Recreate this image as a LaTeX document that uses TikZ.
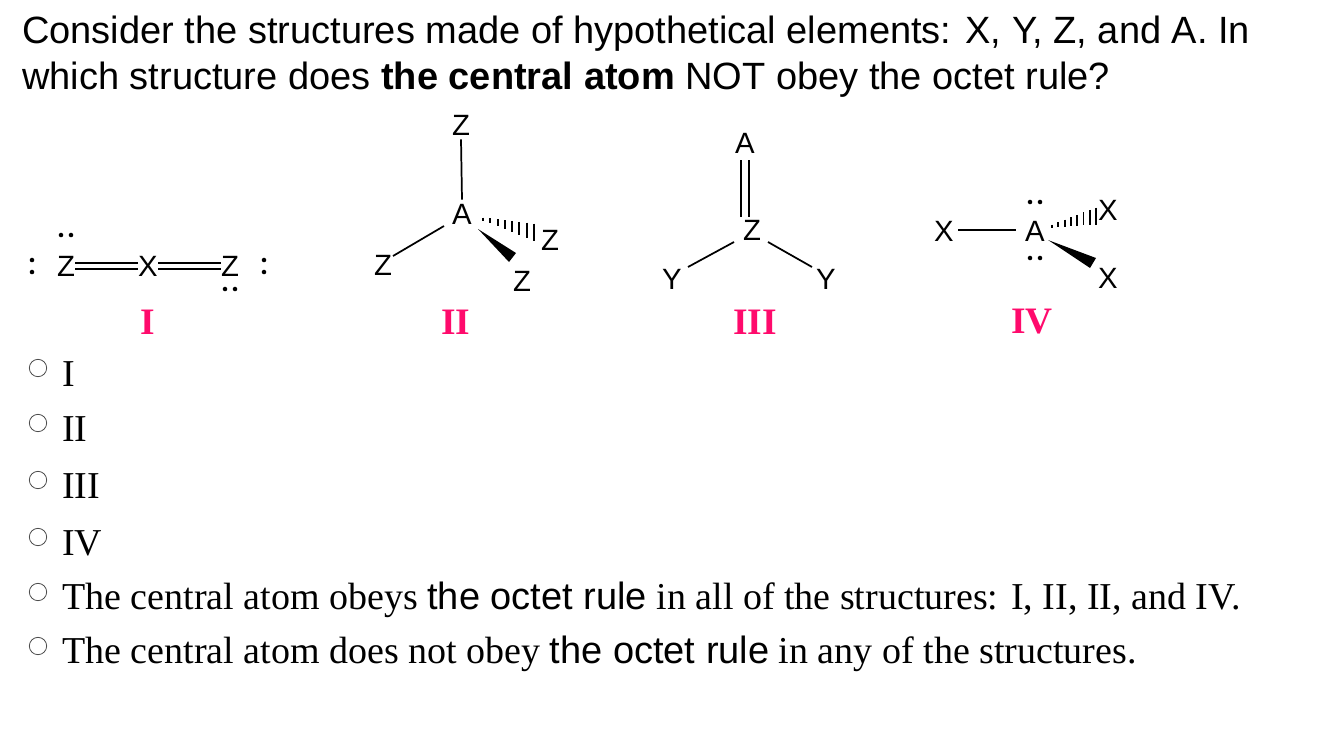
\documentclass[tikz,border=0pt]{standalone}
\usepackage{fontspec}
\setmainfont{Liberation Serif}
\setsansfont{Liberation Sans}
\usetikzlibrary{calc}
\definecolor{rn}{HTML}{FF0A6C}
\begin{document}
\begin{tikzpicture}[x=0.75pt,y=-0.75pt,
  atom/.style={font=\sffamily\fontsize{22}{22}\selectfont,inner sep=0pt},
  roman/.style={font=\bfseries\fontsize{28}{28}\selectfont,text=rn},
  bond/.style={line width=1.3pt},
  hashb/.style={line width=1.4pt},
  dot/.style={circle,fill,inner sep=0pt,minimum size=3.4pt},
  opt/.style={circle,draw=black!70,line width=0.6pt,minimum size=13pt,inner sep=0pt},
  otext/.style={anchor=west,font=\fontsize{28.5}{28.5}\selectfont,inner sep=0pt},
  title/.style={anchor=north west,font=\sffamily\fontsize{28.5}{34}\selectfont,align=left,inner sep=0pt}]
\useasboundingbox (0,0) rectangle (1322,732);
\node[title] (t) at (22,16) {Consider the structures made of hypothetical elements: X, Y, Z, and A. In\\which structure does \textbf{the central atom} NOT obey the octet rule?};
% I
\node[atom] (z1) at (66,266) {Z};
\node[atom] (x1) at (148,266) {X};
\node[atom] (z2) at (230,266) {Z};
\node[dot] at (32,260) {}; \node[dot] at (32,272) {};
\node[dot] at (264,260) {}; \node[dot] at (264,272) {};
\node[dot] at (61,235) {}; \node[dot] at (71,235) {};
\node[dot] at (225,289) {}; \node[dot] at (235,289) {};
\draw[bond] ([yshift=-2.4pt]z1.east) -- ([yshift=-2.4pt]x1.west);
\draw[bond] ([yshift=2.4pt]z1.east) -- ([yshift=2.4pt]x1.west);
\draw[bond] ([yshift=-2.4pt]x1.east) -- ([yshift=-2.4pt]z2.west);
\draw[bond] ([yshift=2.4pt]x1.east) -- ([yshift=2.4pt]z2.west);
\node[roman] (r1) at (148,322) {I};
% II
\node[atom] (a2) at (462,214) {A};
\node[atom] (t2) at (461,125) {Z};
\node[atom] (l2) at (383,265) {Z};
\node[atom] (h2) at (550,240) {Z};
\node[atom] (w2) at (522,281) {Z};
\draw[bond] ([yshift=-3]t2.south) -- ([yshift=3]a2.north);
\draw[bond] (393,256) -- (444,226);
\foreach \i in {0,...,7} {
  \draw[hashb] ($(483,219)!\i/7!(534,232)$) ++(0,{-1.5-\i*1}) -- ++(0,{3+\i*2});
}
\fill (478,229) -- (509,262) -- (516,253) -- cycle;
\node[roman] (r2) at (456,322) {II};
% III
\node[atom] (a3) at (745,143) {A};
\node[atom] (z3) at (752,230) {Z};
\node[atom] (y3a) at (672,279) {Y};
\node[atom] (y3b) at (826,279) {Y};
\draw[bond] (741,160) -- (741,217) (749,160) -- (749,217);
\draw[bond] (688,267) -- (734,242);
\draw[bond] (768,242) -- (812,267);
\node[roman] (r3) at (755,322) {III};
% IV
\node[atom] (a4) at (1035,231) {A};
\node[atom] (x4) at (944,231) {X};
\node[atom] (h4) at (1108,210) {X};
\node[atom] (w4) at (1108,278) {X};
\node[dot] at (1030,202) {}; \node[dot] at (1040,202) {};
\node[dot] at (1030,258) {}; \node[dot] at (1040,258) {};
\draw[bond] (958,230) -- (1016,230);
\foreach \i in {0,...,7} {
  \draw[hashb] ($(1052,226)!\i/7!(1096,216)$) ++(0,{-1.5-\i*1}) -- ++(0,{3+\i*2});
}
\fill (1048,240) -- (1090,268) -- (1096,258) -- cycle;
\node[roman] (r4) at (1032,322) {IV};
% options
\foreach \y/\t [count=\k] in {374/I,429/II,486/III,543/IV} {
  \node[opt] (o\k) at (38,{\y-6}) {};
  \node[otext] (ot\k) at (62,\y) {\t};
}
\node[opt] (o5) at (38,592) {};
\node[otext] (ot5) at (62,600) {The central atom obeys {\sffamily the octet rule} in all of the structures: I, II, II, and IV.};
\node[opt] (o6) at (38,646) {};
\node[otext] (ot6) at (62,654) {The central atom does not obey {\sffamily the octet rule} in any of the structures.};
\end{tikzpicture}
\end{document}
